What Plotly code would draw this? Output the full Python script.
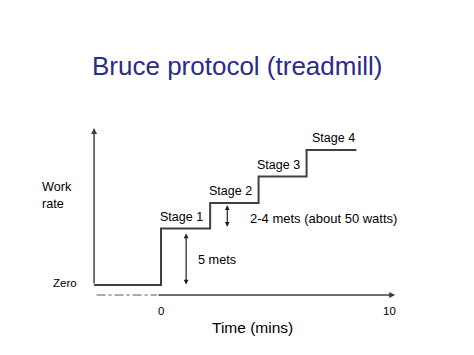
import plotly.graph_objects as go

# ---- data (schematic units: time in mins, work rate in arbitrary units) ----
stage_names = ["Stage 1", "Stage 2", "Stage 3", "Stage 4"]
stage_start = [0.0, 2.15, 4.27, 6.37]
stage_end = 8.55
stage_level = [5.0, 7.25, 9.6, 11.95]
zero_start = -2.93
x_ticks = [0, 10]
x_tick_labels = ["0", "10"]

FONT = "Liberation Sans, Arial, sans-serif"
LINE = "#404040"

W, H = 466, 347  # page body has an 8px margin

step_x = [zero_start] + stage_start + [stage_end]
step_y = [0.0] + stage_level + [stage_level[-1]]

fig = go.Figure()
fig.add_trace(go.Scatter(x=step_x, y=step_y, mode="lines", line_shape="hv",
                         line=dict(color=LINE, width=2), hoverinfo="skip",
                         showlegend=False))

# x axis: dash-dot part then solid with arrow
x_axis_y = -0.88
fig.add_trace(go.Scatter(x=[-2.82, -0.18], y=[x_axis_y, x_axis_y], mode="lines",
                         line=dict(color="#909090", width=1.5, dash="dashdot"),
                         hoverinfo="skip", showlegend=False))
ann = []
ann.append(dict(x=10.25, y=x_axis_y, ax=-0.18, ay=x_axis_y, xref="x", yref="y",
                axref="x", ayref="y", showarrow=True, arrowhead=2, arrowsize=0.8,
                arrowwidth=1.5, arrowcolor=LINE, text=""))
# y axis arrow
ann.append(dict(x=zero_start, y=13.9, ax=zero_start, ay=0, xref="x", yref="y",
                axref="x", ayref="y", showarrow=True, arrowhead=2, arrowsize=0.8,
                arrowwidth=1.5, arrowcolor=LINE, text=""))

# double arrows
ann.append(dict(x=1.1, y=0.05, ax=1.1, ay=stage_level[0] - 0.3, xref="x", yref="y",
                axref="x", ayref="y", showarrow=True, arrowhead=2, arrowside="end+start",
                arrowsize=0.8, arrowwidth=1.2, arrowcolor="#202020", text=""))
ann.append(dict(x=2.9, y=stage_level[0] + 0.15, ax=2.9, ay=stage_level[1] - 0.05,
                xref="x", yref="y", axref="x", ayref="y", showarrow=True, arrowhead=2,
                arrowside="end+start", arrowsize=0.8, arrowwidth=1.2,
                arrowcolor="#202020", text=""))

# stage labels
for i, name in enumerate(stage_names):
    right = stage_start[i + 1] if i + 1 < len(stage_start) else stage_end
    ann.append(dict(x=right, y=stage_level[i], xref="x", yref="y", text=name,
                    showarrow=False, xanchor="right", yanchor="bottom",
                    xshift=-5 if i + 1 < len(stage_start) else 1, yshift=3,
                    font=dict(family=FONT, size=12.5, color="black")))

ann.append(dict(x=3.79, y=5.85, xref="x", yref="y", text="2-4 mets (about 50 watts)",
                showarrow=False, xanchor="left", yanchor="middle",
                font=dict(family=FONT, size=13, color="black")))
ann.append(dict(x=1.52, y=2.2, xref="x", yref="y", text="5 mets",
                showarrow=False, xanchor="left", yanchor="middle",
                font=dict(family=FONT, size=12.7, color="black")))

# y-axis labels
ann.append(dict(x=-5.3, y=7.95, xref="x", yref="y", text="Work<br>rate",
                showarrow=False, xanchor="left", yanchor="middle", align="left",
                font=dict(family=FONT, size=12.7, color="black")))
ann.append(dict(x=-3.6, y=0.15, xref="x", yref="y", text="Zero",
                showarrow=False, xanchor="right", yanchor="middle",
                font=dict(family=FONT, size=11.5, color="black")))

# x tick labels
for xv, lab in zip(x_ticks, x_tick_labels):
    ann.append(dict(x=xv, y=-2.3, xref="x", yref="y", text=lab, showarrow=False,
                    xanchor="center", yanchor="middle",
                    font=dict(family=FONT, size=11.5, color="black")))
ann.append(dict(x=4.0, y=-3.78, xref="x", yref="y", text="Time (mins)",
                showarrow=False, xanchor="center", yanchor="middle",
                font=dict(family=FONT, size=15.5, color="black")))

# title
ann.append(dict(x=(237 - 8) / W, y=1 - (66 - 8) / H, xref="paper", yref="paper",
                text="Bruce protocol (treadmill)",
                showarrow=False, xanchor="center", yanchor="middle",
                font=dict(family=FONT, size=26, color="#2B2B88")))

fig.update_layout(
    width=W, height=H, margin=dict(l=0, r=0, t=0, b=0),
    paper_bgcolor="white", plot_bgcolor="white",
    xaxis=dict(range=[-6.696, 13.698], visible=False, fixedrange=True),
    yaxis=dict(range=[-6.195, 24.513], visible=False, fixedrange=True),
    annotations=ann, showlegend=False,
)

fig.write_html("out.html")
